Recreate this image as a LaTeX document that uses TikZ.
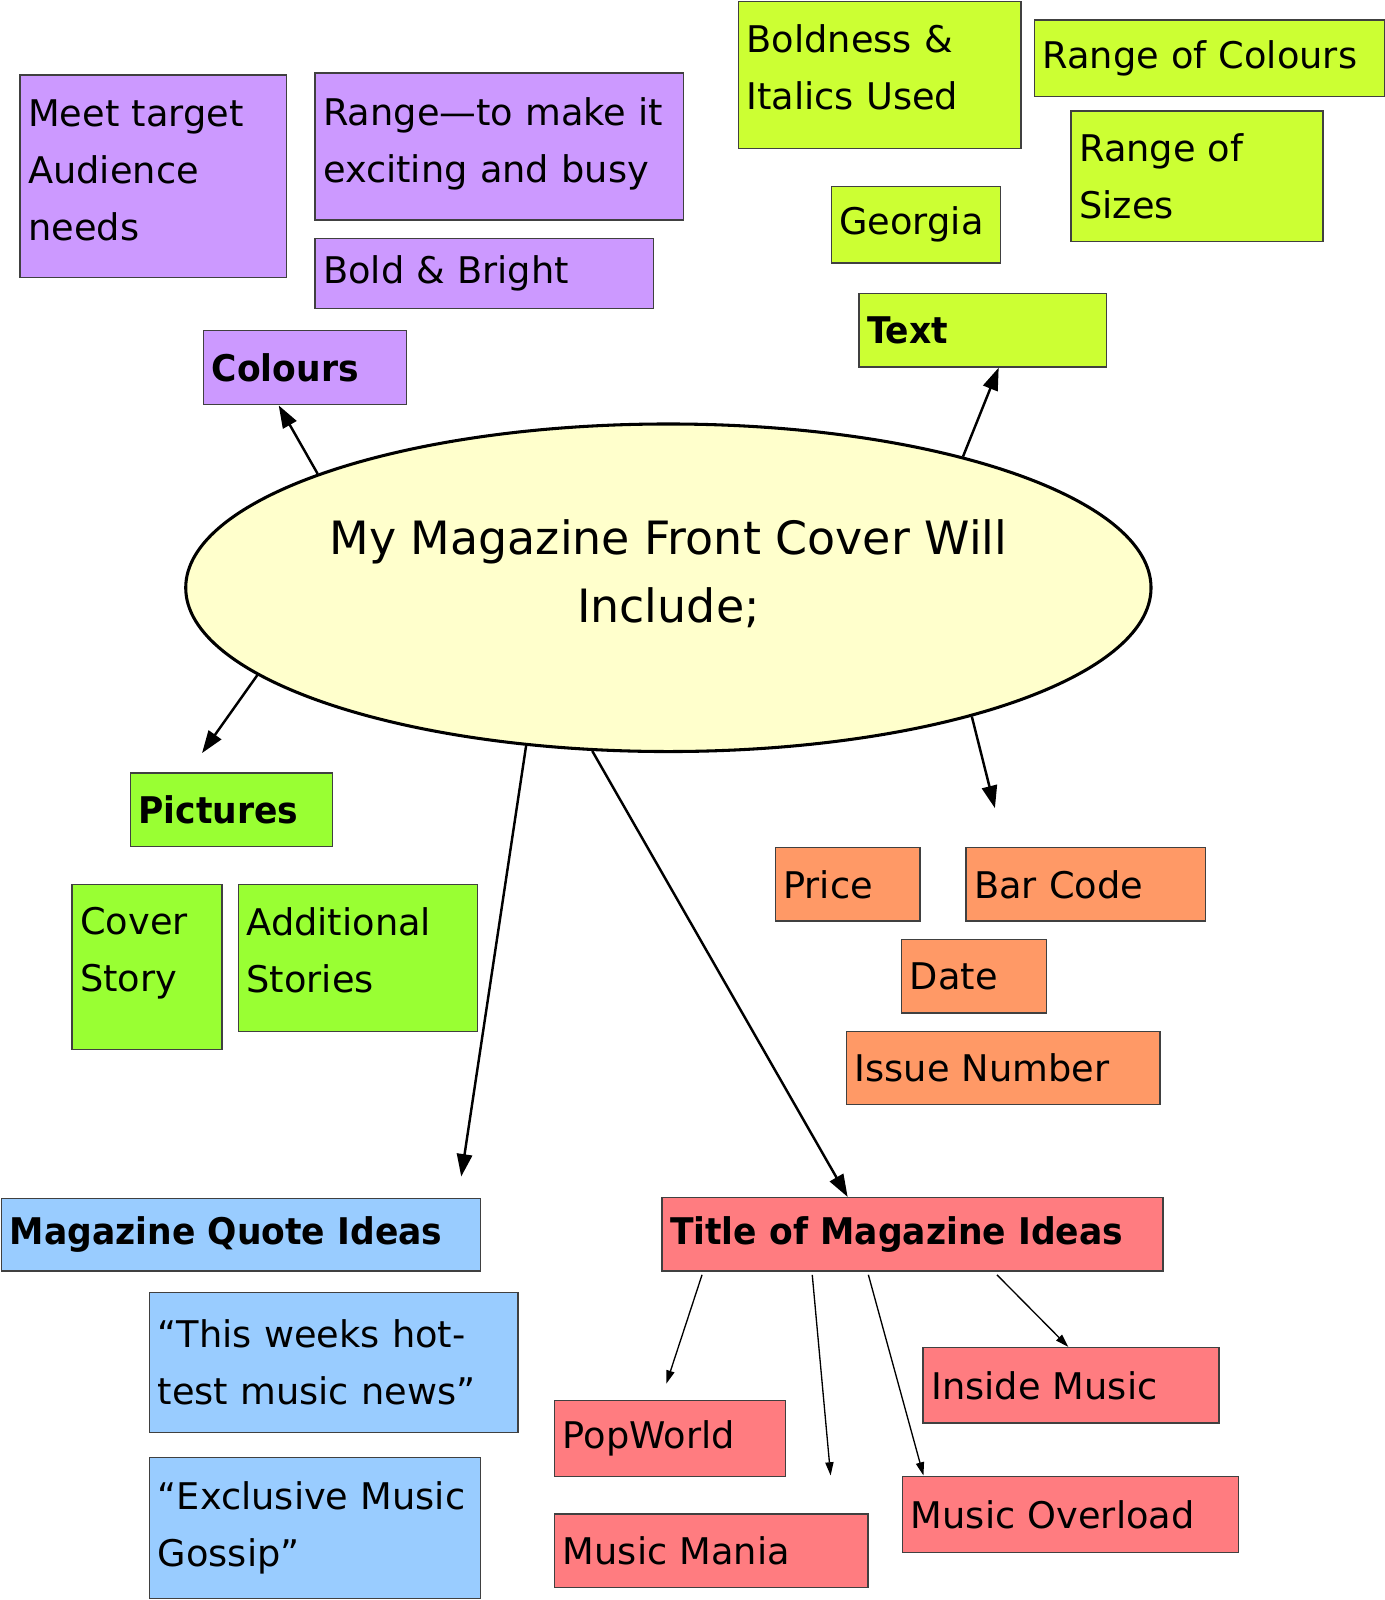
\documentclass[tikz,border=0pt]{standalone}
\usepackage{fontspec}
\setmainfont{DejaVu Sans}[BoldFeatures={FakeStretch=0.94}]
\usetikzlibrary{shapes.geometric,arrows.meta}
\definecolor{purplebox}{HTML}{CC99FF}
\definecolor{limebox}{HTML}{CCFF33}
\definecolor{greenbox}{HTML}{99FF33}
\definecolor{orangebox}{HTML}{FF9966}
\definecolor{bluebox}{HTML}{99CCFF}
\definecolor{redbox}{HTML}{FF7C80}
\definecolor{hubyellow}{HTML}{FFFFCC}
\tikzset{
  card/.style={rectangle, draw=black!75, line width=1.3pt, anchor=north west,
    inner xsep=8pt, inner ysep=0pt, align=left,
    font=\fontsize{36}{56}\selectfont},
  head/.style={card, font=\fontsize{36}{56}\selectfont\bfseries},
  bigarrow/.style={-{Triangle[length=22pt,width=15pt]}, line width=2.4pt},
  smallarrow/.style={-{Triangle[length=13pt,width=8pt]}, line width=1.3pt},
}

\begin{document}
\begin{tikzpicture}[x=1pt,y=-1pt]
        \useasboundingbox (0,0) rectangle (1357,1568);

        \node[ellipse, draw, line width=3pt, fill=hubyellow, minimum width=946pt,
              minimum height=321pt, inner xsep=-10pt, inner ysep=0pt, align=center,
              font=\fontsize{45}{67}\selectfont] (hub) at (655,576)
              {My Magazine Front Cover Will\\Include;\\[-34pt]\mbox{}};

        \node[card, fill=purplebox, text width=245pt, minimum height=198pt] (meet) at (19,73) {Meet target\\Audience\\needs\\[-44pt]\mbox{}};
        \node[card, fill=purplebox, text width=345pt, minimum height=144pt] (range) at (308,71) {Range—to make it\\exciting and busy\\[-44pt]\mbox{}};
        \node[card, fill=purplebox, text width=316pt, minimum height=69pt] (bold) at (308,233) {Bold \& Bright};
        \node[head, fill=purplebox, text width=183pt, minimum height=73pt] (colours) at (199,323) {Colours};

        \node[card, fill=limebox, text width=261pt, minimum height=144pt] (boldness) at (723,1) {Boldness \&\\Italics Used\\[-40pt]\mbox{}};
        \node[card, fill=limebox, text width=327pt, minimum height=75pt] (rangecol) at (1013,19) {Range of Colours};
        \node[card, fill=limebox, text width=231pt, minimum height=128pt] (rangesize) at (1049,108) {Range of\\Sizes};
        \node[card, fill=limebox, text width=150pt, minimum height=75pt] (georgia) at (814,182) {Georgia};
        \node[head, fill=limebox, text width=227pt, minimum height=72pt] (text) at (841,287) {Text};

        \node[head, fill=greenbox, text width=182pt, minimum height=72pt] (pictures) at (127,757) {Pictures};
        \node[card, fill=greenbox, text width=131pt, minimum height=162pt] (cover) at (70,866) {Cover\\Story\\[-22pt]\mbox{}};
        \node[card, fill=greenbox, text width=218pt, minimum height=144pt] (additional) at (233,866) {Additional\\Stories\\[-40pt]\mbox{}};

        \node[card, fill=orangebox, text width=126pt, minimum height=72pt] (price) at (759,830) {Price};
        \node[card, fill=orangebox, text width=219pt, minimum height=72pt] (barcode) at (946,830) {Bar Code};
        \node[card, fill=orangebox, text width=126pt, minimum height=72pt] (date) at (883,920) {Date};
        \node[card, fill=orangebox, text width=291pt, minimum height=72pt] (issue) at (829,1010) {Issue Number};

        \node[head, fill=bluebox, text width=453pt, minimum height=71pt] (quote) at (1,1174) {Magazine Quote Ideas};
        \node[card, fill=bluebox, text width=345pt, minimum height=137pt] (hottest) at (146,1266) {“This weeks hot-\\test music news”};
        \node[card, fill=bluebox, text width=308pt, minimum height=138pt] (exclusive) at (146,1428) {“Exclusive Music\\Gossip”};

        \node[head, fill=redbox, text width=475pt, minimum height=72pt] (title) at (648,1173) {Title of Magazine Ideas};
        \node[card, fill=redbox, text width=210pt, minimum height=74pt] (popworld) at (543,1372) {PopWorld};
        \node[card, fill=redbox, text width=291pt, minimum height=72pt] (mania) at (543,1483) {Music Mania};
        \node[card, fill=redbox, text width=274pt, minimum height=74pt] (inside) at (904,1320) {Inside Music};
        \node[card, fill=redbox, text width=313pt, minimum height=75pt] (overload) at (884,1446) {Music Overload};

        \coordinate (picturestip) at (198,738);
        \coordinate (detailstip) at (975,792);
        \coordinate (quotetip) at (452,1153);
        \coordinate (popworldtip) at (653,1356);
        \coordinate (maniatip) at (814,1446);

        \draw[bigarrow] (hub.162) -- (colours.235);
        \draw[bigarrow] (hub.24) -- (text.293);
        \draw[bigarrow] (hub.192) -- (picturestip);
        \draw[bigarrow] (hub.337) -- (detailstip);
        \draw[bigarrow] (hub.228) -- (quotetip);
        \draw[bigarrow] (hub.245) -- (title.150);

        \draw[smallarrow] ([xshift=40pt,yshift=-3pt]title.south west) -- (popworldtip);
        \draw[smallarrow] ([xshift=148pt,yshift=-3pt]title.south west) -- (maniatip);
        \draw[smallarrow] ([xshift=203pt,yshift=-3pt]title.south west) -- ([xshift=21pt]overload.north west);
        \draw[smallarrow] ([xshift=329pt,yshift=-3pt]title.south west) -- ([xshift=143pt]inside.north west);
\end{tikzpicture}
\end{document}
